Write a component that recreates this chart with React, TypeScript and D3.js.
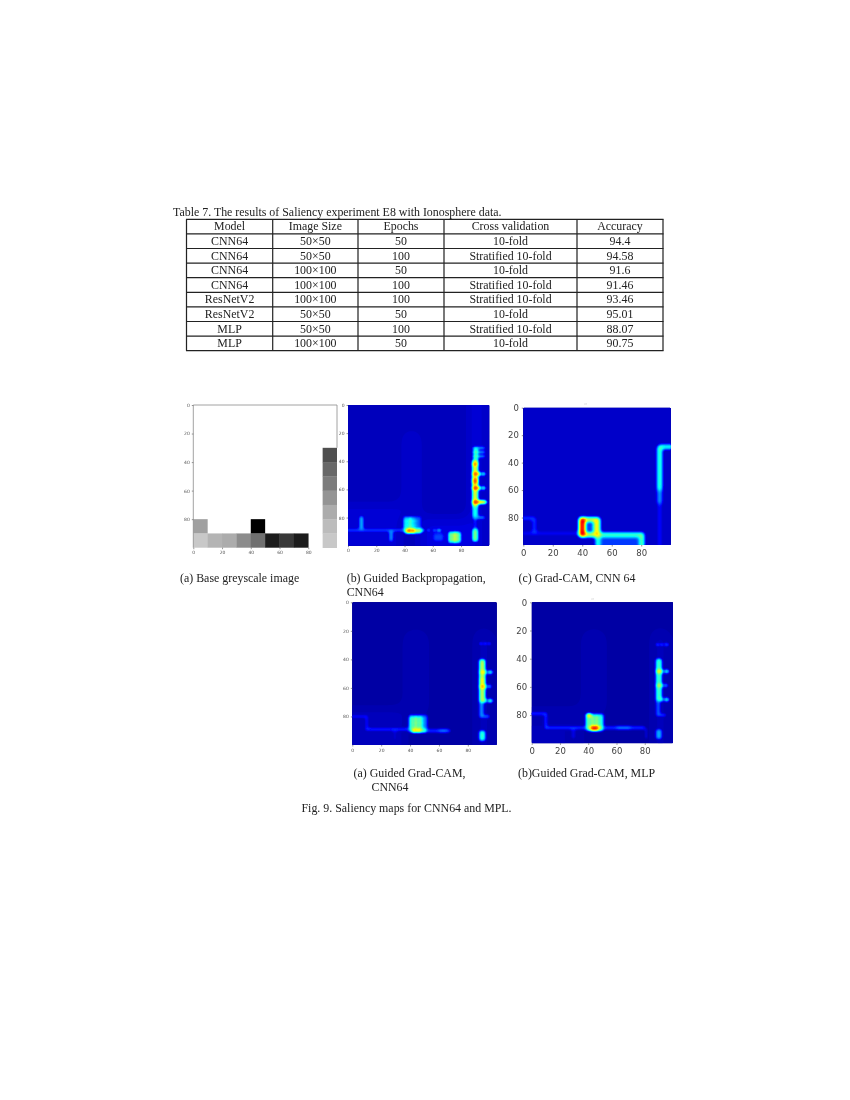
import React, { useRef, useEffect } from "react";
import * as d3 from "d3";

// Table 7 columns
const tableHeader = ["Model", "Image Size", "Epochs", "Cross validation", "Accuracy"];
const models = ["CNN64", "CNN64", "CNN64", "CNN64", "ResNetV2", "ResNetV2", "MLP", "MLP"];
const imageSizes = ["50×50", "50×50", "100×100", "100×100", "100×100", "50×50", "50×50", "100×100"];
const epochs = ["50", "100", "50", "100", "100", "50", "100", "50"];
const crossValidation = ["10-fold", "Stratified 10-fold", "10-fold", "Stratified 10-fold", "Stratified 10-fold", "10-fold", "Stratified 10-fold", "10-fold"];
const accuracy = ["94.4", "94.58", "91.6", "91.46", "93.46", "95.01", "88.07", "90.75"];
const columnEdges = [186.5, 272.7, 358, 444, 577, 663];

const ticks = [0, 20, 40, 60, 80];

// base greyscale image, 10 unit cells
const greyBottomRow = [200, 180, 172, 140, 112, 28, 56, 28];
const greyUpperRow = [160, null, null, null, 0, null, null, null];
const greySideColumn = [80, 104, 124, 148, 172, 188, 200];

// saliency patches: [x0, x1, y0, y1, intensity] in image units
type Patch = [number, number, number, number, number];

// faint wide glow, gets a heavier blur than the sharp patches
const backpropGlow: Patch[] = [
  [0, 100, 0, 100, 0.06], [38, 52, 18, 80, 0.085], [86, 96, 0, 100, 0.1], [0, 38, 70, 100, 0.09], [50, 86, 80, 100, 0.1],
];
const backpropPatches: Patch[] = [
  [88, 97, 30, 31, 0.6], [88, 97, 33, 34, 0.6], [88, 97, 36, 37, 0.6], [89, 92, 30, 39, 0.42],
  [88, 92, 39, 72, 0.62], [88, 92, 41, 43, 0.85], [88, 92, 48, 50, 0.9], [88, 92, 52, 56, 0.85], [88, 92, 58, 60, 0.95], [88, 92, 68, 70, 0.95],
  [92, 94, 48, 50, 0.72], [95, 97, 48, 50, 0.68], [92, 94, 58, 60, 0.75], [95, 97, 58, 60, 0.72], [92, 95, 68, 70, 0.95], [95, 98, 68, 70, 0.85],
  [88, 92, 72, 79, 0.42], [88, 97, 79, 81, 0.34], [89, 91, 81, 88, 0.22], [88, 92, 88, 97, 0.52],
  [8, 11, 79, 88, 0.34], [0, 40, 88, 90, 0.26], [29, 32, 89, 97, 0.3],
  [39, 52, 79, 88, 0.22], [40, 42, 80, 88, 0.42], [43, 45, 80, 88, 0.5], [46, 47, 80, 88, 0.4],
  [39, 49, 82, 83, 0.42], [39, 49, 85, 86, 0.42],
  [40, 52, 88, 91, 0.62], [42, 44, 88, 91, 0.95], [45, 47, 88, 91, 0.9],
  [52, 54, 88, 90, 0.42], [56, 58, 88, 90, 0.4], [60, 62, 88, 90, 0.4], [63, 66, 88, 90, 0.45], [60, 68, 91, 97, 0.2],
  [71, 80, 90, 98, 0.4], [72, 73, 90, 98, 0.58], [75, 76, 90, 98, 0.72], [77, 78, 90, 98, 0.55], [71, 80, 92, 93, 0.58], [71, 80, 95, 96, 0.58],
];

const gradCamGlow: Patch[] = [[0, 100, 0, 100, 0.08]];
const gradCamPatches: Patch[] = [
  [91, 94, 28, 60, 0.56], [92, 100, 27, 30, 0.5], [91, 94, 60, 70, 0.36], [91, 94, 70, 100, 0.18],
  [38, 42, 80, 94, 1], [38, 51, 80, 83, 0.72], [48, 52, 80, 94, 0.7], [38, 52, 91, 94, 0.72],
  [50, 82, 91, 94, 0.54], [79, 82, 91, 100, 0.56], [49, 52, 94, 100, 0.5], [52, 79, 94, 100, 0.18],
  [43, 48, 84, 90, 0.2],
  [0, 8, 79, 82, 0.22], [6, 9, 80, 92, 0.22], [0, 38, 90, 93, 0.16],
];

const guidedCamGlow: Patch[] = [
  [0, 100, 0, 100, 0.04], [36, 52, 20, 80, 0.06], [86, 96, 20, 100, 0.07], [0, 36, 75, 100, 0.07],
];
const guidedCamPatches: Patch[] = [
  [88, 90, 28, 30, 0.3], [91, 93, 28, 30, 0.3], [94, 96, 28, 30, 0.28],
  [88, 92, 40, 70, 0.58], [88, 92, 48, 50, 0.7], [88, 92, 53, 57, 0.66], [88, 92, 58, 60, 0.8],
  [91, 93, 48, 50, 0.58], [94, 97, 48, 50, 0.58], [91, 93, 58, 60, 0.52], [94, 96, 58, 60, 0.5], [91, 93, 68, 70, 0.62], [94, 97, 68, 70, 0.62],
  [88, 91, 70, 80, 0.3], [88, 95, 79, 81, 0.3], [88, 92, 90, 97, 0.45],
  [0, 10, 79, 81, 0.18], [9, 11, 79, 88, 0.18], [9, 40, 88, 90, 0.22], [28, 31, 90, 97, 0.1],
  [39, 52, 79, 91, 0.26], [40, 42, 80, 90, 0.52], [43, 45, 80, 90, 0.56], [46, 48, 80, 90, 0.52],
  [40, 49, 81, 82, 0.5], [40, 49, 84, 85, 0.52], [40, 49, 87, 88, 0.52],
  [41, 51, 89, 91, 0.6], [42, 44, 89, 91, 0.9], [45, 47, 89, 91, 0.9], [50, 68, 89, 91, 0.24], [60, 66, 89, 91, 0.34],
];

const mlpCamGlow: Patch[] = [
  [0, 100, 0, 100, 0.04], [36, 52, 20, 80, 0.06], [86, 96, 20, 100, 0.07], [0, 36, 75, 100, 0.06],
];
const mlpCamPatches: Patch[] = [
  [88, 90, 29, 31, 0.34], [91, 93, 29, 31, 0.34], [94, 97, 29, 31, 0.3],
  [88, 92, 40, 70, 0.46], [88, 92, 48, 50, 0.72], [88, 92, 58, 60, 0.62],
  [91, 93, 48, 50, 0.56], [94, 97, 48, 50, 0.56], [91, 93, 58, 60, 0.5], [94, 96, 58, 60, 0.46], [91, 93, 68, 70, 0.56], [94, 97, 68, 70, 0.56],
  [88, 91, 70, 80, 0.24], [88, 95, 79, 81, 0.24], [88, 92, 90, 97, 0.32],
  [0, 10, 78, 80, 0.22], [9, 11, 78, 88, 0.22], [9, 80, 88, 90, 0.24], [60, 70, 88, 90, 0.34],
  [28, 31, 90, 97, 0.12], [80, 82, 89, 97, 0.12],
  [38, 51, 79, 91, 0.28], [39, 41, 80, 90, 0.54], [42, 44, 80, 90, 0.56], [45, 47, 80, 90, 0.56], [48, 50, 80, 90, 0.46],
  [39, 49, 81, 82, 0.52], [39, 49, 84, 85, 0.5], [39, 49, 87, 88, 0.5],
  [39, 42, 79, 81, 0.8], [40, 50, 88, 91, 0.58], [42, 47, 88, 91, 0.95],
];

const jet = d3
  .scaleLinear<string>()
  .domain([0, 0.125, 0.375, 0.625, 0.875, 1])
  .range(["#00007f", "#0000ff", "#00ffff", "#ffff00", "#ff0000", "#7f0000"])
  .clamp(true);

const levels = d3.range(0, 1, 0.012);

function rasterize(patches: Patch[], radius) {
  const values = new Float64Array(10000);
  patches.forEach(([x0, x1, y0, y1, v]) => {
    for (let r = y0; r < y1; r++) {
      for (let c = x0; c < x1; c++) {
        values[r * 100 + c] = Math.max(values[r * 100 + c], v);
      }
    }
  });
  d3.blur2({ data: values, width: 100, height: 100 }, radius);
  return values;
}

function drawAxes(g, x, y, box, fontSize, color) {
  const bottom = g.append("g")
    .attr("transform", `translate(0,${box.bottom})`)
    .call(d3.axisBottom(x).tickValues(ticks).tickSize(1.5).tickPadding(fontSize > 6 ? 3 : 2));
  const left = g.append("g")
    .attr("transform", `translate(${box.left},0)`)
    .call(d3.axisLeft(y).tickValues(ticks).tickSize(1.5).tickPadding(fontSize > 6 ? 3 : 2));
  [bottom, left].forEach((a) => {
    a.select(".domain").remove();
    a.selectAll("line").attr("stroke", color).attr("stroke-width", 0.6);
    a.selectAll("text")
      .attr("font-family", "DejaVu Sans")
      .attr("font-size", fontSize)
      .attr("fill", color);
  });
}

function drawHeatmap(svg, id, box, glow: Patch[], patches: Patch[], fontSize, color, blur) {
  const x = d3.scaleLinear().domain([0, 100]).range([box.left, box.right]);
  const y = d3.scaleLinear().domain([0, 100]).range([box.top, box.bottom]);

  const soft = rasterize(glow, 4);
  const sharp = rasterize(patches, blur);
  const values = Array.from(soft, (v, i) => Math.max(v, sharp[i]));

  const contours = d3.contours().size([100, 100]).smooth(true).thresholds(levels)(values);
  const path = d3.geoPath(d3.geoTransform({
    point(px, py) {
      this.stream.point(x(px), y(py));
    },
  }));

  svg.append("clipPath").attr("id", id)
    .append("rect")
    .attr("x", box.left).attr("y", box.top)
    .attr("width", box.right - box.left).attr("height", box.bottom - box.top);

  const g = svg.append("g").attr("filter", "url(#soft)");
  const map = g.append("g").attr("clip-path", `url(#${id})`);
  map.append("rect")
    .attr("x", box.left).attr("y", box.top)
    .attr("width", box.right - box.left).attr("height", box.bottom - box.top)
    .attr("fill", jet(glow[0][4]));
  map.selectAll("path")
    .data(contours)
    .join("path")
    .attr("d", path)
    .attr("fill", (d) => jet(d.value));

  drawAxes(g, x, y, box, fontSize, color);
}

function drawGreyscale(svg) {
  const box = { left: 193.3, right: 337, top: 405, bottom: 547.7 };
  const x = d3.scaleLinear().domain([0, 100]).range([box.left, box.right]);
  const y = d3.scaleLinear().domain([0, 100]).range([box.top, box.bottom]);
  const g = svg.append("g").attr("filter", "url(#soft)");
  const grey = (v) => d3.rgb(v, v, v).formatHex();

  g.selectAll("rect.bottom").data(greyBottomRow).join("rect")
    .attr("x", (d, i) => x(i * 10)).attr("y", y(90))
    .attr("width", x(10) - x(0) + 0.3).attr("height", y(100) - y(90))
    .attr("fill", grey);
  g.selectAll("rect.upper").data(greyUpperRow.map((v, i) => ({ v, i })).filter((d) => d.v !== null)).join("rect")
    .attr("x", (d) => x(d.i * 10)).attr("y", y(80))
    .attr("width", x(10) - x(0)).attr("height", y(90) - y(80))
    .attr("fill", (d) => grey(d.v));
  g.selectAll("rect.side").data(greySideColumn.map((v, i) => ({ v, i }))).join("rect")
    .attr("x", x(90)).attr("y", (d) => y(30 + d.i * 10))
    .attr("width", x(100) - x(90)).attr("height", y(10) - y(0) + 0.3)
    .attr("fill", (d) => grey(d.v));

  g.append("path")
    .attr("d", d3.line()([[box.left, box.bottom], [box.left, box.top], [box.right, box.top], [box.right, y(30)]]))
    .attr("fill", "none")
    .attr("stroke", "#8a8a8a")
    .attr("stroke-width", 0.8);

  drawAxes(g, x, y, box, 4.5, "#555");
}

function drawTable(root) {
  const columns = [models, imageSizes, epochs, crossValidation, accuracy];
  const rowIndex = d3.range(models.length + 1);
  const y = d3.scaleBand<number>().domain(rowIndex).range([219.3, 350.7]);
  const lines = root.append("g").attr("stroke", "#222").attr("stroke-width", 1.2);

  lines.selectAll("line.h").data([...rowIndex, rowIndex.length]).join("line")
    .attr("x1", columnEdges[0] - 0.5).attr("x2", columnEdges[5] + 0.5)
    .attr("y1", (d) => 219.3 + d * y.step()).attr("y2", (d) => 219.3 + d * y.step());
  lines.selectAll("line.v").data(columnEdges).join("line")
    .attr("x1", (d) => d).attr("x2", (d) => d)
    .attr("y1", 219.3).attr("y2", 350.7);

  columns.forEach((col, c) => {
    const cx = (columnEdges[c] + columnEdges[c + 1]) / 2;
    root.append("g").selectAll("text").data([tableHeader[c], ...col]).join("text")
      .attr("x", cx)
      .attr("y", (d, i) => y(i) + 11)
      .attr("text-anchor", "middle")
      .attr("class", "body")
      .text((d) => d);
  });
}

function drawText(root) {
  const labels: [string, number, number][] = [
    ["Table 7. The results of Saliency experiment E8 with Ionosphere data.", 173, 216],
    ["(a) Base greyscale image", 180, 582],
    ["(b) Guided Backpropagation,", 346.7, 582],
    ["CNN64", 346.7, 596],
    ["(c) Grad-CAM, CNN 64", 518.5, 582],
    ["(a) Guided Grad-CAM,", 353.5, 776.5],
    ["CNN64", 371.5, 790.5],
    ["(b)Guided Grad-CAM, MLP", 518, 776.5],
    ["Fig. 9. Saliency maps for CNN64 and MPL.", 301.5, 812],
  ];
  root.append("g").selectAll("text").data(labels).join("text")
    .attr("x", (d) => d[1])
    .attr("y", (d) => d[2])
    .attr("class", "body")
    .text((d) => d[0]);
  root.selectAll("text.body")
    .attr("font-family", "Liberation Serif")
    .attr("font-size", 11.9)
    .attr("fill", "#222");

  root.append("text").attr("x", 584).attr("y", 405.5).attr("font-size", 5).attr("fill", "#666").text("~");
  root.append("text").attr("x", 591).attr("y", 600.5).attr("font-size", 5).attr("fill", "#666").text("~");
}

export default function App() {
  const svgRef = useRef(null);

  useEffect(() => {
    const svg = d3.select(svgRef.current);
    svg.selectAll("*").remove();

    svg.append("filter").attr("id", "soft")
      .attr("x", "-5%").attr("y", "-5%").attr("width", "110%").attr("height", "110%")
      .append("feGaussianBlur").attr("stdDeviation", 0.35);

    const ink = svg.append("g").attr("filter", "url(#soft)");

    drawTable(ink);
    drawGreyscale(svg);
    drawHeatmap(svg, "clipB", { left: 348, right: 489.3, top: 405, bottom: 545.7 }, backpropGlow, backpropPatches, 4.5, "#555", 0.25);
    drawHeatmap(svg, "clipC", { left: 523.3, right: 670.7, top: 407.7, bottom: 545 }, gradCamGlow, gradCamPatches, 8.5, "#444", 0.6);
    drawHeatmap(svg, "clipD", { left: 352.3, right: 496.7, top: 602.3, bottom: 745 }, guidedCamGlow, guidedCamPatches, 4.5, "#555", 0.25);
    drawHeatmap(svg, "clipE", { left: 531.7, right: 673, top: 602.3, bottom: 743.3 }, mlpCamGlow, mlpCamPatches, 8.5, "#444", 0.25);
    drawText(ink);
  }, []);

  return (
    <svg
      ref={svgRef}
      width={850}
      height={1100}
      style={{ position: "absolute", left: 0, top: 0, background: "#fff" }}
    />
  );
}
